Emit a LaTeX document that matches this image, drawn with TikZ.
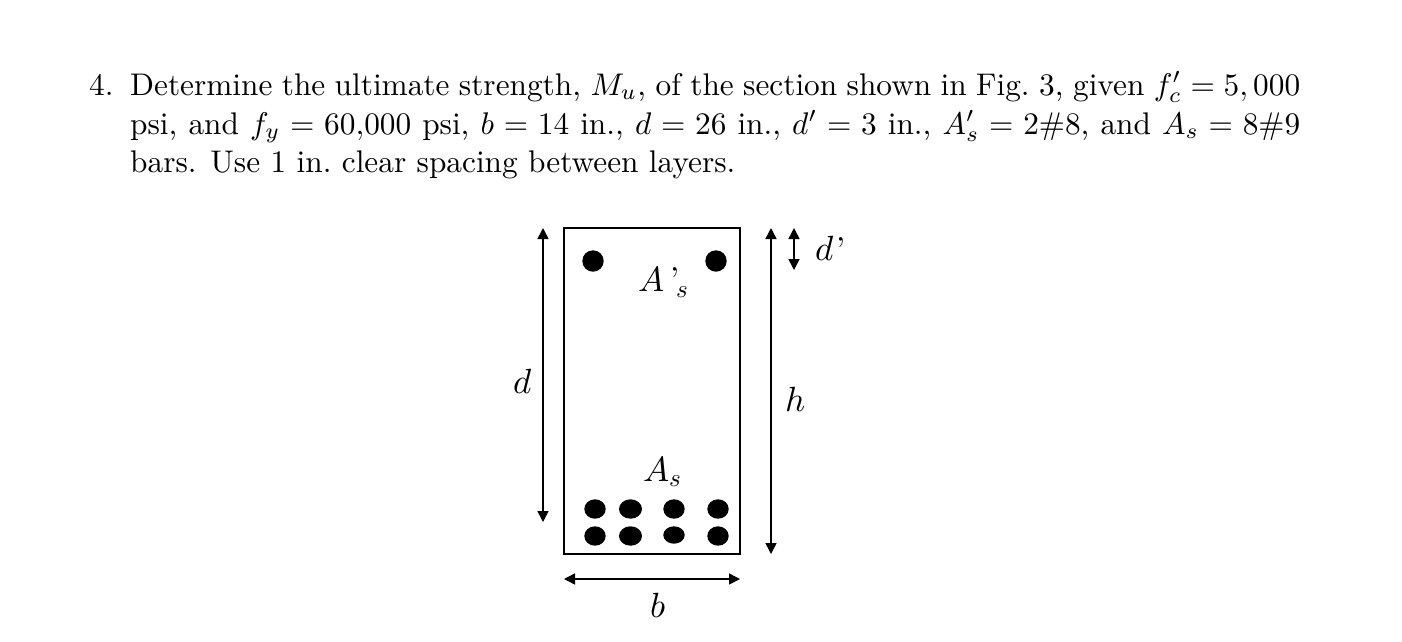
\documentclass[tikz,border=0pt]{standalone}
\usepackage{fontspec}
\usetikzlibrary{arrows.meta}
\newcommand{\bigline}[1]{\scalebox{3.13}{#1}}
\newcommand{\biglbl}[1]{\scalebox{3.5}{$#1$}}
\newcommand{\bigquote}{\scalebox{3.3}{’}}
\tikzset{
  px/.style={x=1pt,y=-1pt},
  txt/.style={anchor=base west,inner sep=0pt,text=black},
  lbl/.style={inner sep=0pt,anchor=base west},
  bar/.style={fill=black,draw=none},
  dim/.style={line width=1.5pt,{Triangle[length=11pt,width=11pt]}-{Triangle[length=11pt,width=11pt]}}
}
\begin{document}
\begin{tikzpicture}[px]
\useasboundingbox (0,0) rectangle (1402,641);
\node[txt] (l0) at (89,95) {\bigline{4.}};
\node[txt] (l1) at (130,95) {\bigline{\makebox[373.8pt][s]{Determine the ultimate strength, $M_u$, of the section shown in Fig.\ 3, given $f'_c=5,000$}}};
\node[txt] (l2) at (130,134) {\bigline{\makebox[373.8pt][s]{psi, and $f_y=60{,}000$ psi, $b=14$ in., $d=26$ in., $d'=3$ in., $A'_s=2\#8$, and $A_s=8\#9$}}};
\node[txt] (l3) at (130,172) {\bigline{bars. Use 1 in.\ clear spacing between layers.}};
\node[draw,line width=1.5pt,minimum width=176pt,minimum height=326pt,inner sep=0pt] (sec) at (652,391) {};
\foreach \n/\x/\y/\a/\b in {a/593/261/10.7/10.7,b/716/261/10.7/10.7,c/595/509/10.7/9.7,d/630.5/509/11.5/9.7,e/674/509/10.7/9.7,f/718/509/10.7/9.7,g/595/536/10.7/9.7,h/630.5/536/11.5/9.7,i/674/535/10.7/8.7,j/718/536/10.7/9.7}
  \fill[bar] (\x,\y) ellipse [x radius=\a pt,y radius=\b pt];
\coordinate (dt) at (543,228); \coordinate (db) at (543,522);
\coordinate (ht) at (771,228); \coordinate (hb) at (771,554);
\coordinate (pt) at (794,228); \coordinate (pb) at (794,270);
\coordinate (bl) at (564,579); \coordinate (br) at (740,579);
\draw[dim] (dt) -- (db);
\draw[dim] (ht) -- (hb);
\draw[dim] (pt) -- (pb);
\draw[dim] (bl) -- (br);
\node[lbl] (nd) at (513,393) {\biglbl{d}};
\node[lbl] (nh) at (785,411) {\biglbl{h}};
\node[lbl] (np) at (815,260) {\biglbl{d}};
\node[lbl] (npq) at (836,260) {\bigquote};
\node[lbl] (nb) at (650,617) {\biglbl{b}};
\node[lbl] (nas) at (638,291) {\biglbl{A}};
\node[lbl] (nasq) at (670,290) {\bigquote};
\node[lbl] (nass) at (676,297) {\scalebox{2.5}{$s$}};
\node[lbl] (ns) at (643,481) {\biglbl{A}};
\node[lbl] (nss) at (669,486) {\scalebox{2.5}{$s$}};
\end{tikzpicture}
\end{document}
